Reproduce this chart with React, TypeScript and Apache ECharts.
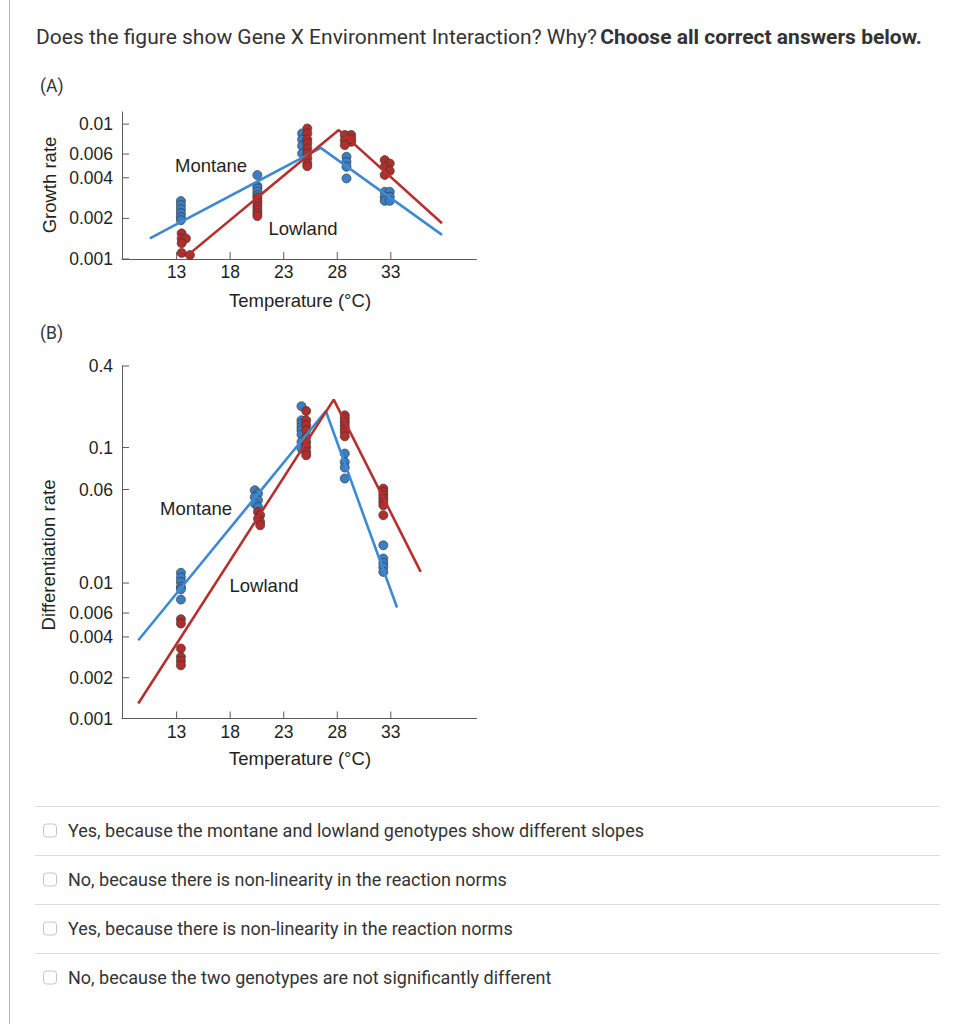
import React, { useEffect, useRef } from 'react';
import * as echarts from 'echarts';

// ---------- data ----------
const X_MIN = 7.9;
const X_MAX = 41;
const xTickValues = [13, 18, 23, 28, 33];
const xTickLabels = ['13', '18', '23', '28', '33'];

const growthMin = 0.001;
const growthMax = 0.0123;
const yTicksGrowth = [0.001, 0.002, 0.004, 0.006, 0.01];
const yTickLabelsGrowth = ['0.001', '0.002', '0.004', '0.006', '0.01'];

const diffMin = 0.001;
const diffMax = 0.4;
const yTicksDiff = [0.001, 0.002, 0.004, 0.006, 0.01, 0.049, 0.1, 0.4];
const yTickLabelsDiff = ['0.001', '0.002', '0.004', '0.006', '0.01', '0.06', '0.1', '0.4'];

// Panel A: growth rate
const montaneGrowthPts = [
  [13.4, 0.00269], [13.4, 0.00251], [13.4, 0.00234], [13.4, 0.00219], [13.4, 0.00205], [13.4, 0.00194],
  [20.54, 0.00419], [20.54, 0.00347], [20.54, 0.00334], [20.54, 0.00315], [20.54, 0.00298],
  [24.72, 0.00853], [24.72, 0.00769], [24.72, 0.00691], [24.72, 0.00606],
  [28.86, 0.00573], [28.86, 0.00525], [28.86, 0.00483], [28.86, 0.00396],
  [32.43, 0.00315], [32.9, 0.00315], [32.43, 0.00289], [32.9, 0.00289], [32.43, 0.0027], [32.9, 0.0027],
];
const lowlandGrowthPts = [
  [13.47, 0.00155], [13.47, 0.00142], [13.87, 0.00142], [13.47, 0.00131], [13.47, 0.00111], [14.24, 0.00107],
  [20.54, 0.00286], [20.54, 0.0027], [20.54, 0.00258], [20.54, 0.00244], [20.54, 0.00231], [20.54, 0.00218], [20.54, 0.00208],
  [25.2, 0.00929], [25.2, 0.00853], [25.2, 0.00769], [25.2, 0.00719], [25.2, 0.0066], [25.2, 0.00606], [25.2, 0.00557], [25.2, 0.00511], [25.2, 0.00488],
  [28.7, 0.00831], [28.7, 0.0076], [29.3, 0.00831], [29.3, 0.0074], [28.7, 0.00699], [29.3, 0.00775],
  [32.43, 0.00541], [32.9, 0.00511], [32.43, 0.00483], [32.9, 0.0045], [32.43, 0.0042],
];
const montaneGrowthNorm = [[10.5, 0.00142], [26.46, 0.00667], [37.78, 0.00151]];
const lowlandGrowthNorm = [[13.93, 0.00105], [28.14, 0.00903], [37.78, 0.00184]];

// Panel B: differentiation rate
const montaneDiffPts = [
  [13.4, 0.0119], [13.4, 0.011], [13.4, 0.0102], [13.4, 0.00936], [13.4, 0.009], [13.4, 0.00755],
  [20.3, 0.0484], [20.6, 0.0458], [20.3, 0.0432], [20.6, 0.0408], [20.3, 0.0386], [20.6, 0.0364],
  [24.66, 0.2018], [24.66, 0.159], [24.66, 0.1503], [24.66, 0.1419], [24.66, 0.1342], [24.66, 0.1247], [24.66, 0.11], [24.66, 0.0983],
  [28.7, 0.0903], [28.7, 0.0783], [28.7, 0.0712], [28.7, 0.0591],
  [32.3, 0.019], [32.3, 0.01517], [32.3, 0.01406], [32.3, 0.01314], [32.3, 0.01208],
];
const lowlandDiffPts = [
  [13.4, 0.00541], [13.4, 0.00502], [13.4, 0.00329], [13.4, 0.00285], [13.4, 0.00266], [13.4, 0.00247],
  [20.6, 0.0335], [20.8, 0.0317], [20.6, 0.0299], [20.8, 0.0283], [20.8, 0.0267],
  [25.1, 0.1862], [25.1, 0.159], [25.1, 0.1461], [25.1, 0.1342], [25.1, 0.1192], [25.1, 0.1094], [25.1, 0.1009], [25.1, 0.0928], [25.1, 0.0877],
  [28.7, 0.173], [28.7, 0.1637], [28.7, 0.1545], [28.7, 0.1461], [28.7, 0.138], [28.7, 0.1303], [28.7, 0.1211],
  [32.3, 0.0498], [32.3, 0.047], [32.3, 0.0445], [32.3, 0.042], [32.3, 0.0397], [32.3, 0.0375], [32.3, 0.0317],
];
const montaneDiffNorm = [[9.42, 0.00378], [26.93, 0.186], [33.58, 0.00659]];
const lowlandDiffNorm = [[9.42, 0.00129], [27.67, 0.226], [35.79, 0.0121]];

const questionText = 'Does the figure show Gene X Environment Interaction? Why?';
const questionBold = 'Choose all correct answers below.';
const answerOptions = [
  'Yes, because the montane and lowland genotypes show different slopes',
  'No, because there is non-linearity in the reaction norms',
  'Yes, because there is non-linearity in the reaction norms',
  'No, because the two genotypes are not significantly different',
];

// ---------- styles ----------
const AXIS = '#5a5a5a';
const TXT = '#231f20';
const FIG_FONT = '"Liberation Sans", Arial, sans-serif';
const BLUE_PT = '#3a7fc6';
const RED_PT = '#b22d2b';
const BLUE_LINE = '#3d8ad2';
const RED_LINE = '#b7302e';
const PAGE_FONT = 'Roboto, sans-serif';

function yTickSeries(idx: number, vals: number[], labels: string[]) {
  return {
    type: 'custom',
    xAxisIndex: idx,
    yAxisIndex: idx,
    clip: false,
    silent: true,
    z: 5,
    data: vals.map((v) => [X_MIN, v]),
    renderItem: (params: any, api: any) => {
      const p = api.coord([api.value(0), api.value(1)]);
      return {
        type: 'group',
        children: [
          { type: 'line', shape: { x1: p[0], y1: p[1], x2: p[0] + 7, y2: p[1] }, style: { stroke: AXIS, lineWidth: 1 } },
          {
            type: 'text',
            x: p[0] - 9,
            y: p[1],
            style: { text: labels[params.dataIndex], fill: TXT, font: `17.5px ${FIG_FONT}`, align: 'right', verticalAlign: 'middle' },
          },
        ],
      };
    },
  };
}

function xTickSeries(idx: number, yBase: number) {
  return {
    type: 'custom',
    xAxisIndex: idx,
    yAxisIndex: idx,
    clip: false,
    silent: true,
    z: 5,
    data: xTickValues.map((v) => [v, yBase]),
    renderItem: (params: any, api: any) => {
      const p = api.coord([api.value(0), api.value(1)]);
      return {
        type: 'group',
        children: [
          { type: 'line', shape: { x1: p[0], y1: p[1], x2: p[0], y2: p[1] - 7 }, style: { stroke: AXIS, lineWidth: 1 } },
          {
            type: 'text',
            x: p[0],
            y: p[1] + 13,
            style: { text: xTickLabels[params.dataIndex], fill: TXT, font: `17.5px ${FIG_FONT}`, align: 'center', verticalAlign: 'middle' },
          },
        ],
      };
    },
  };
}

function scatter(idx: number, data: number[][], color: string) {
  return {
    type: 'scatter',
    xAxisIndex: idx,
    yAxisIndex: idx,
    data,
    symbolSize: 9,
    itemStyle: { color, borderColor: '#3a3a3a', borderWidth: 0.7, opacity: 1 },
    z: 2,
  };
}

function norm(idx: number, data: number[][], color: string) {
  return {
    type: 'line',
    xAxisIndex: idx,
    yAxisIndex: idx,
    data,
    showSymbol: false,
    symbol: 'none',
    lineStyle: { color, width: 2.6 },
    z: 3,
  };
}

const xAxisBase = (gridIndex: number) => ({
  type: 'value',
  gridIndex,
  min: X_MIN,
  max: X_MAX,
  axisLine: { show: true, onZero: false, lineStyle: { color: AXIS, width: 1 } },
  axisTick: { show: false },
  axisLabel: { show: false },
  splitLine: { show: false },
});

const yAxisBase = (gridIndex: number, min: number, max: number) => ({
  type: 'log',
  logBase: 10,
  gridIndex,
  min,
  max,
  axisLine: { show: true, onZero: false, lineStyle: { color: AXIS, width: 1 } },
  axisTick: { show: false },
  axisLabel: { show: false },
  splitLine: { show: false },
});

function figText(text: string, x: number, y: number, extra: any = {}) {
  return {
    type: 'text',
    x,
    y,
    silent: true,
    style: { text, fill: TXT, font: `18.5px ${FIG_FONT}`, align: 'center', verticalAlign: 'middle', ...extra },
  };
}

export default function App() {
  const ref = useRef<HTMLDivElement>(null);

  useEffect(() => {
    if (!ref.current) return;
    const chart = echarts.init(ref.current, null, { renderer: 'svg' });

    const graphics: any[] = [
      { type: 'line', shape: { x1: 9.5, y1: 0, x2: 9.5, y2: 1024 }, style: { stroke: '#b5b5b5', lineWidth: 1 } },
      {
        type: 'text',
        x: 36,
        y: 37,
        style: {
          text: `{n|${questionText}} {b|${questionBold}}`,
          verticalAlign: 'middle',
          rich: {
            n: { font: `21px ${PAGE_FONT}`, fill: '#333' },
            b: { font: `bold 21px ${PAGE_FONT}`, fill: '#333' },
          },
        },
      },
      { type: 'text', x: 40, y: 86, style: { text: '(A)', fill: '#333', font: `17.5px ${PAGE_FONT}`, verticalAlign: 'middle' } },
      { type: 'text', x: 40, y: 333, style: { text: '(B)', fill: '#333', font: `17.5px ${PAGE_FONT}`, verticalAlign: 'middle' } },
      figText('Growth rate', 49, 185),
      figText('Temperature (°C)', 300, 300),
      figText('Montane', 211, 165),
      figText('Lowland', 303, 228),
      figText('Differentiation rate', 48, 555),
      figText('Temperature (°C)', 300, 758),
      figText('Montane', 196, 508),
      figText('Lowland', 264, 585),
    ];
    graphics[4].rotation = Math.PI / 2;
    graphics[8].rotation = Math.PI / 2;

    const sepY = [806, 855, 904, 953];
    sepY.forEach((y) => {
      graphics.push({ type: 'line', shape: { x1: 35, y1: y + 0.5, x2: 940, y2: y + 0.5 }, style: { stroke: '#dcdcdc', lineWidth: 1 } });
    });
    answerOptions.forEach((t, i) => {
      const cy = 830.5 + i * 49;
      graphics.push({
        type: 'rect',
        shape: { x: 43.5, y: cy - 6.5, width: 13, height: 13, r: 3 },
        style: { fill: '#fff', stroke: '#c4c4c4', lineWidth: 1 },
      });
      graphics.push({
        type: 'text',
        x: 68,
        y: cy,
        style: { text: t, fill: '#333', font: `18px ${PAGE_FONT}`, verticalAlign: 'middle' },
      });
    });

    chart.setOption({
      animation: false,
      backgroundColor: '#ffffff',
      grid: [
        { left: 122, top: 112, width: 354.5, height: 147, containLabel: false },
        { left: 122, top: 366, width: 354.5, height: 352.5, containLabel: false },
      ],
      xAxis: [xAxisBase(0), xAxisBase(1)],
      yAxis: [yAxisBase(0, growthMin, growthMax), yAxisBase(1, diffMin, diffMax)],
      series: [
        scatter(0, montaneGrowthPts, BLUE_PT),
        scatter(0, lowlandGrowthPts, RED_PT),
        norm(0, montaneGrowthNorm, BLUE_LINE),
        norm(0, lowlandGrowthNorm, RED_LINE),
        yTickSeries(0, yTicksGrowth, yTickLabelsGrowth),
        xTickSeries(0, growthMin),
        scatter(1, montaneDiffPts, BLUE_PT),
        scatter(1, lowlandDiffPts, RED_PT),
        norm(1, montaneDiffNorm, BLUE_LINE),
        norm(1, lowlandDiffNorm, RED_LINE),
        yTickSeries(1, yTicksDiff, yTickLabelsDiff),
        xTickSeries(1, diffMin),
      ],
      graphic: graphics,
    });

    return () => chart.dispose();
  }, []);

  return (
    <div
      ref={ref}
      style={{ position: 'absolute', left: 0, top: 0, width: 954, height: 1024, background: '#fff' }}
    />
  );
}
